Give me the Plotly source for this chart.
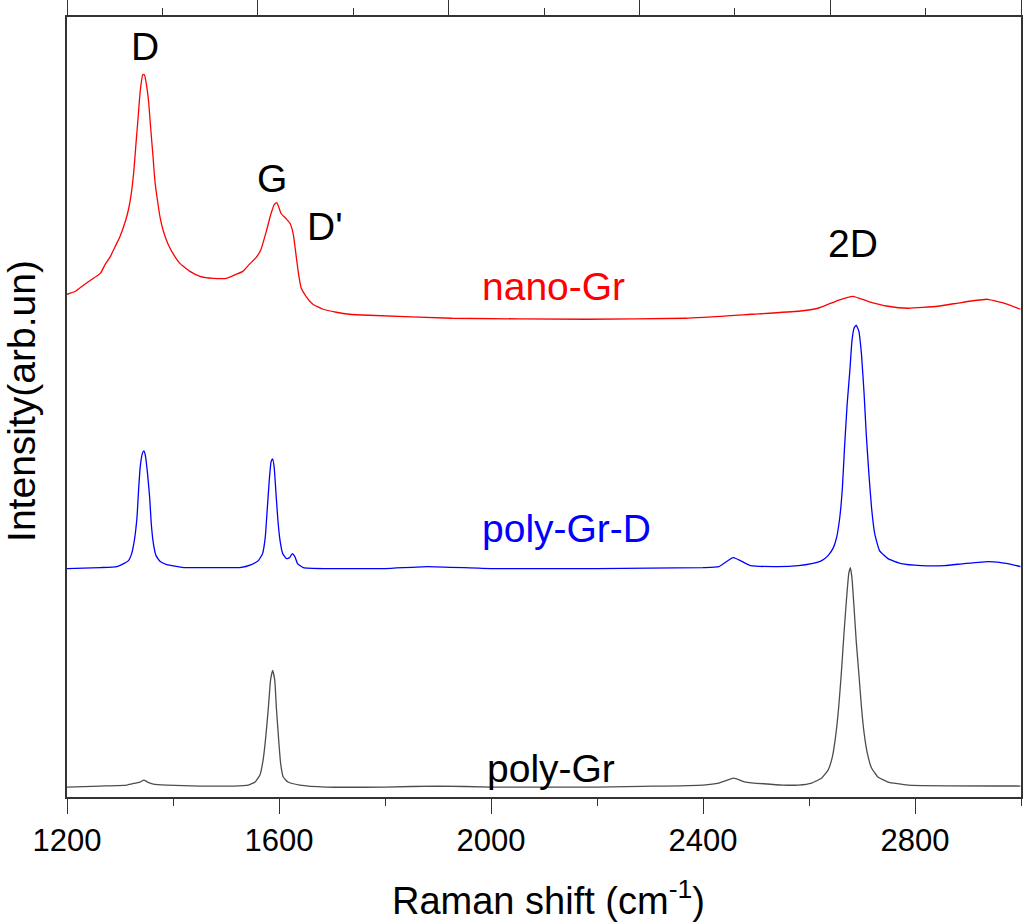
import plotly.graph_objects as go

# Raman shift (cm-1) and intensity (arb. units, stacked offsets as drawn)
nano_x = [1200, 1216, 1231, 1247, 1263, 1272, 1282, 1291, 1300, 1310, 1316, 1321, 1326, 1330,
          1334, 1338, 1343, 1346, 1349, 1354, 1358, 1362, 1366, 1371, 1376, 1382, 1391, 1401,
          1413, 1432, 1451, 1476, 1501, 1519, 1532, 1544, 1557, 1566, 1576, 1585, 1591, 1596,
          1604, 1613, 1621, 1627, 1632, 1637, 1642, 1651, 1664, 1683, 1708, 1733, 1770, 1926,
          2179, 2367, 2491, 2580, 2617, 2655, 2683, 2711, 2749, 2787, 2843, 2890, 2937, 2975, 2999]
nano_y = [504, 507, 513, 519, 525, 534, 542, 552, 562, 577, 589, 604, 627, 654,
          680, 707, 724, 724, 717, 697, 670, 644, 617, 597, 580, 567, 554, 544,
          535, 527, 522, 520, 520, 524, 527, 534, 541, 549, 567, 585, 594, 596,
          585, 580, 575, 564, 544, 524, 510, 502, 494, 489, 486, 484, 483, 480,
          479, 480, 484, 487, 490, 498, 502, 497, 492, 490, 492, 496, 499, 494, 489]

polyD_x = [1200, 1263, 1294, 1307, 1316, 1322, 1327, 1332, 1335, 1338, 1342, 1345, 1348, 1352,
           1356, 1359, 1363, 1368, 1376, 1388, 1420, 1482, 1526, 1548, 1561, 1569, 1574, 1578,
           1582, 1585, 1588, 1591, 1594, 1598, 1602, 1607, 1614, 1620, 1625, 1630, 1635, 1646,
           1689, 1800, 1880, 2000, 2200, 2400, 2430, 2457, 2490, 2542, 2580, 2605, 2624, 2636,
           2646, 2652, 2658, 2663, 2667, 2672, 2677, 2681, 2685, 2689, 2694, 2699, 2704, 2708,
           2713, 2718, 2724, 2733, 2749, 2774, 2812, 2856, 2893, 2940, 2975, 2999]
polyD_y = [229, 230, 231, 234, 237, 244, 257, 280, 307, 330, 344, 347, 342, 324,
           300, 274, 254, 242, 236, 233, 230, 230, 230, 233, 237, 244, 260, 290,
           320, 336, 339, 330, 307, 277, 257, 244, 239, 240, 244, 241, 234, 230,
           229, 229, 231, 229, 229, 230, 231, 240, 232, 231, 232, 234, 237, 242,
           250, 260, 280, 310, 350, 394, 427, 457, 470, 473, 467, 444, 404, 364,
           324, 290, 264, 247, 239, 234, 232, 232, 234, 236, 234, 231]

poly_x = [1200, 1263, 1313, 1329, 1338, 1345, 1352, 1363, 1388, 1451, 1514, 1542, 1555, 1564,
          1570, 1575, 1580, 1584, 1588, 1592, 1595, 1599, 1603, 1608, 1617, 1639, 1689, 1800,
          1900, 2000, 2200, 2400, 2430, 2458, 2480, 2550, 2580, 2605, 2624, 2636, 2644, 2650,
          2656, 2661, 2666, 2671, 2675, 2678, 2681, 2685, 2689, 2694, 2699, 2704, 2710, 2718,
          2730, 2749, 2787, 2999]
poly_y = [10, 11, 12, 14, 15, 17, 15, 13, 12, 11, 11, 12, 15, 22,
          37, 60, 90, 117, 127, 117, 90, 60, 34, 20, 15, 12, 10, 10,
          11, 10, 10, 12, 14, 19, 15, 12, 12, 14, 19, 27, 40, 60,
          90, 124, 164, 200, 224, 230, 220, 190, 157, 124, 90, 64, 44, 29,
          20, 15, 12, 11]

major_ticks = [1200, 1600, 2000, 2400, 2800]
minor_ticks = [1400, 1800, 2200, 2600, 3000]

peak_labels = ["D", "G", "D'", "2D"]
peak_x = [1347, 1586, 1686, 2683]
peak_y = [752, 620, 572, 555]

sample_labels = ["nano-Gr", "poly-Gr-D", "poly-Gr"]
sample_x = [2118, 2143, 2113]
sample_y = [512, 269, 29]
sample_colors = ["#ff0000", "#0000ff", "#000000"]

FONT = "Liberation Sans, Arial, sans-serif"
LINE = dict(width=1.3, shape="spline", smoothing=0.4)

fig = go.Figure()
fig.add_trace(go.Scatter(x=nano_x, y=nano_y, mode="lines",
                         line=dict(color="#ff0000", **LINE),
                         showlegend=False, hoverinfo="skip"))
fig.add_trace(go.Scatter(x=polyD_x, y=polyD_y, mode="lines",
                         line=dict(color="#0000ff", **LINE),
                         showlegend=False, hoverinfo="skip"))
fig.add_trace(go.Scatter(x=poly_x, y=poly_y, mode="lines",
                         line=dict(color="#4d4d4d", **LINE),
                         showlegend=False, hoverinfo="skip"))
# carrier trace for the unlabeled top axis
fig.add_trace(go.Scatter(x=[0, 10], y=[0, 0], xaxis="x2", mode="lines",
                         line=dict(width=0), opacity=0, showlegend=False, hoverinfo="skip"))

for t, x, y in zip(peak_labels, peak_x, peak_y):
    fig.add_annotation(x=x, y=y, text=t, showarrow=False,
                       font=dict(family=FONT, size=39, color="#000000"),
                       xanchor="center", yanchor="middle")
for t, x, y, c in zip(sample_labels, sample_x, sample_y, sample_colors):
    fig.add_annotation(x=x, y=y, text=t, showarrow=False,
                       font=dict(family=FONT, size=39, color=c),
                       xanchor="center", yanchor="middle")

fig.add_annotation(xref="paper", yref="paper", x=-0.047, y=0.508,
                   text="Intensity(arb.un)", textangle=-90, showarrow=False,
                   font=dict(family=FONT, size=39, color="#000000"),
                   xanchor="center", yanchor="middle")
fig.add_annotation(xref="paper", yref="paper", x=0.505, y=-0.129,
                   text="Raman shift (cm<sup>-1</sup>)", showarrow=False,
                   font=dict(family=FONT, size=38, color="#000000"),
                   xanchor="center", yanchor="middle")

fig.update_layout(
    width=1025, height=924,
    margin=dict(l=67, r=2, t=15, b=127),
    paper_bgcolor="white", plot_bgcolor="white",
    font=dict(family=FONT, color="#000000"),
    xaxis=dict(range=[1200, 3000], showgrid=False, zeroline=False,
               showline=True, linecolor="#333333", linewidth=1.5, mirror=False,
               ticks="outside", tickvals=major_ticks, ticklen=15, tickwidth=1.2,
               tickcolor="#333333",
               minor=dict(tickvals=minor_ticks, ticks="outside", ticklen=7,
                          tickwidth=1.2, tickcolor="#333333", showgrid=False),
               tickfont=dict(family=FONT, size=31, color="#000000")),
    xaxis2=dict(range=[0, 10], overlaying="x", side="top", anchor="y",
                showgrid=False, zeroline=False, showline=True,
                linecolor="#333333", linewidth=1.5,
                ticks="outside", tickvals=[0, 2, 4, 6, 8, 10], ticklen=15,
                tickwidth=1.2, tickcolor="#333333", showticklabels=False,
                minor=dict(tickvals=[1, 3, 5, 7, 9], ticks="outside", ticklen=7,
                           tickwidth=1.2, tickcolor="#333333", showgrid=False)),
    yaxis=dict(range=[0, 782], showgrid=False, zeroline=False, showline=True,
               linecolor="#333333", linewidth=1.5, mirror=True,
               ticks="", showticklabels=False),
)

fig.write_html("out.html")
